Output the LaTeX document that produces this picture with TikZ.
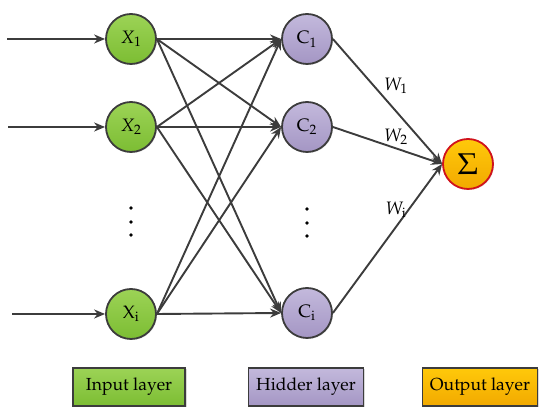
\documentclass[tikz,border=0pt]{standalone}
\usepackage[T1]{fontenc}
\usepackage{mathpazo}
\usetikzlibrary{arrows.meta,shadows}
\definecolor{gtop}{HTML}{9CD356}
\definecolor{gbot}{HTML}{7CBD33}
\definecolor{ptop}{HTML}{C3B9DC}
\definecolor{pbot}{HTML}{A496C4}
\definecolor{otop}{HTML}{FFC90A}
\definecolor{obot}{HTML}{F2A900}
\definecolor{ored}{HTML}{D0121B}
\definecolor{ln}{HTML}{3C3C3C}
\tikzset{
  neuron/.style={circle, minimum size=50pt, inner sep=0pt, draw=ln, line width=1.8pt,
    font=\fontsize{18}{20}\selectfont,
    drop shadow={shadow xshift=1pt, shadow yshift=-1pt, opacity=0.25}},
  innode/.style={neuron, top color=gtop, bottom color=gbot},
  hidnode/.style={neuron, top color=ptop, bottom color=pbot},
  outnode/.style={neuron, top color=otop, bottom color=obot, draw=ored},
  legend/.style={rectangle, draw=ln, line width=1.5pt, minimum width=112pt, minimum height=38pt,
    font=\fontsize{17.5}{20}\selectfont, drop shadow={shadow xshift=1.5pt, shadow yshift=-1.5pt, opacity=0.3}},
  conn/.style={draw=ln, line width=1.9pt, -{Stealth[length=11pt,width=9pt]}},
  wlab/.style={font=\fontsize{18}{20}\selectfont, inner sep=1pt},
  dotm/.style={circle, fill=black, inner sep=0pt, minimum size=3.8pt}
}
\begin{document}
\begin{tikzpicture}[x=1pt,y=1pt]
\useasboundingbox (0,0) rectangle (550,417);
% input nodes
\node[innode] (x1) at (131,378) {$X_1$};
\node[innode] (x2) at (131,290) {$X_2$};
\node[innode] (xi) at (131,103) {$\mathrm{X}_\mathrm{i}$};
% hidden nodes
\node[hidnode] (c1) at (307,378) {$\mathrm{C}_1$};
\node[hidnode] (c2) at (307,290) {$\mathrm{C}_2$};
\node[hidnode] (ci) at (307,104) {$\mathrm{C}_\mathrm{i}$};
% output
\node[outnode] (s) at (468,253) {\fontsize{30}{32}\selectfont$\Sigma$};
% input arrow starts
\coordinate (a1) at (7,378);
\coordinate (a2) at (8,290);
\coordinate (ai) at (12,103);
\draw[conn] (a1) -- (x1);
\draw[conn] (a2) -- (x2);
\draw[conn] (ai) -- (xi);
% input to hidden
\foreach \a in {x1,x2,xi}{
  \foreach \b in {c1,c2,ci}{
    \draw[conn] (\a.east) -- (\b.west);
  }
}
% hidden to output
\draw[conn] (c1.east) -- (s.west);
\draw[conn] (c2.east) -- (s.west);
\draw[conn] (ci.east) -- (s.west);
% weights
\node[wlab] (w1) at (396,331) {$W_1$};
\node[wlab] (w2) at (396,280) {$W_2$};
\node[wlab] (wi) at (396,207) {$W_\mathrm{i}$};
% dots
\node[dotm] (d1) at (131,209) {};
\node[dotm] (d2) at (131,195) {};
\node[dotm] (d3) at (131,182) {};
\node[dotm] (e1) at (307,208) {};
\node[dotm] (e2) at (307,194) {};
\node[dotm] (e3) at (307,181) {};
% legend
\node[legend, top color=gtop, bottom color=gbot] (li) at (129,30) {Input layer};
\node[legend, top color=ptop, bottom color=pbot, minimum width=115pt] (lh) at (306,30) {Hidder layer};
\node[legend, top color=otop, bottom color=obot, minimum width=115pt] (lo) at (480,30) {Output layer};
\end{tikzpicture}
\end{document}
